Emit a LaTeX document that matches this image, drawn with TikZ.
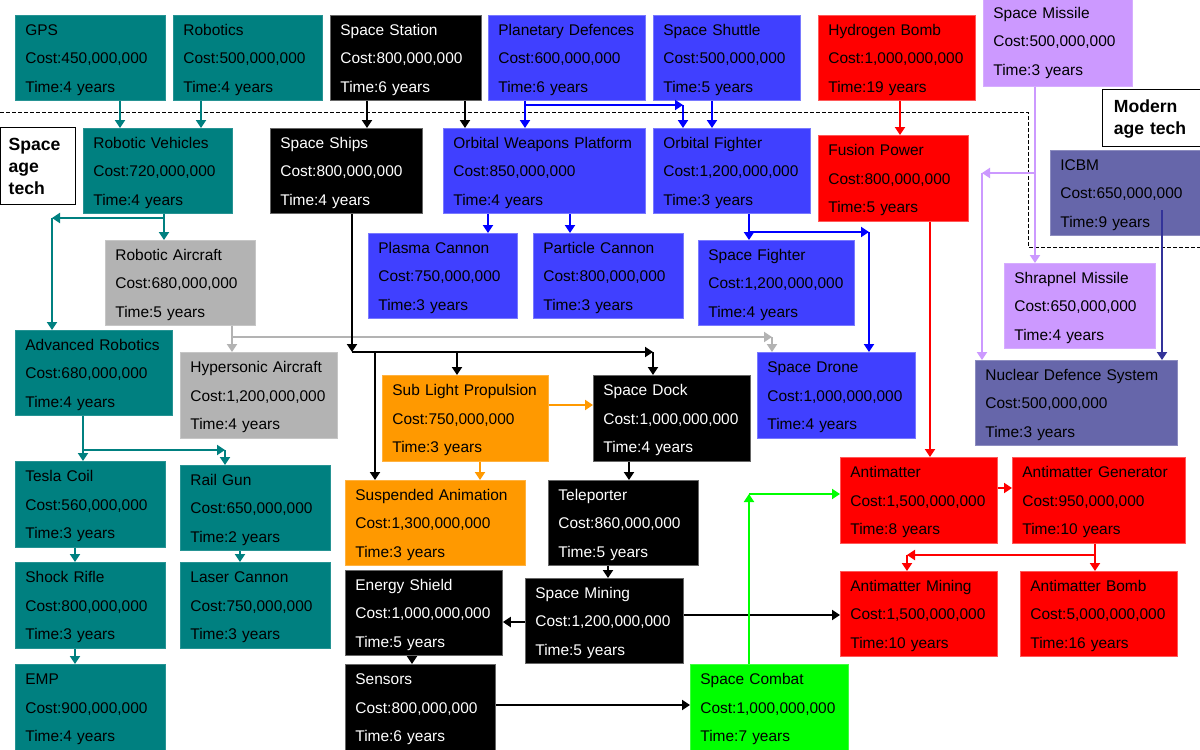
\documentclass[tikz,border=0pt]{standalone}
\usepackage{fontspec}
\setmainfont{Liberation Sans}
\usetikzlibrary{arrows.meta}
\definecolor{tealc}{HTML}{008080}
\definecolor{blueb}{HTML}{4040FF}
\definecolor{bluel}{HTML}{0000FF}
\definecolor{lav}{HTML}{CC99FF}
\definecolor{slate}{HTML}{6666AA}
\definecolor{slateline}{HTML}{333399}
\definecolor{grayb}{HTML}{B3B3B3}
\definecolor{orangeb}{HTML}{FF9900}
\definecolor{greenb}{HTML}{00FF00}
\newcommand\tb[9]{%
  \pgfmathsetmacro\tbtw{(#4-20)*0.75}%
  \pgfmathsetmacro\tbmh{#5*0.75}%
  \node[techbox,#6,text width=\tbtw pt,minimum height=\tbmh pt] (#1) at (#2,#3) {\mbox{#7}\\\mbox{Cost:#8}\\\mbox{Time:#9}};%
}
\begin{document}
\begin{tikzpicture}[x=0.75pt,y=-0.75pt,
  techbox/.style={rectangle,inner xsep=7.5pt,inner ysep=0pt,align=left,anchor=north west,
    font=\fontsize{11.6}{21.4}\selectfont,text height=15pt,text depth=48.75pt,line width=0.6pt},
  tealbox/.style={fill=tealc,draw=tealc!85!white,text=black},
  blackbox/.style={fill=black,draw=black!60!white,text=white},
  bluebox/.style={fill=blueb,draw=blueb!70!white,text=black},
  redbox/.style={fill=red,draw=red!65!white,text=black},
  lavbox/.style={fill=lav,draw=lav!80!white,text=black},
  slatebox/.style={fill=slate,draw=slate!75!white,text=black},
  graybox/.style={fill=grayb,draw=grayb!75!white,text=black},
  orangebox/.style={fill=orangeb,draw=orangeb!75!white,text=black},
  greenbox/.style={fill=greenb,draw=greenb!75!white,text=black},
  agebox/.style={rectangle,draw=black,line width=0.75pt,fill=white,anchor=north west,align=left,
    inner xsep=6pt,inner ysep=0pt,font=\fontsize{13.2}{16.5}\selectfont\bfseries},
  conn/.style={line width=2.1pt,-{Triangle[length=6pt,width=7.5pt]}},
  tc/.style={conn,draw=tealc},
  gc/.style={conn,draw=grayb},
  kc/.style={conn,draw=black},
  oc/.style={conn,draw=orangeb},
  grc/.style={conn,draw=greenb},
  blc/.style={conn,draw=bluel},
  rc/.style={conn,draw=red},
  lc/.style={conn,draw=lav},
  slc/.style={conn,draw=slateline},
  ageline/.style={draw=black,line width=0.75pt,dash pattern=on 3pt off 1.5pt}
]
\useasboundingbox (0,0) rectangle (1200,750);
\clip (0,0) rectangle (1200,750);
\fill[white] (0,0) rectangle (1200,750);

% era boundary
\draw[ageline] (0,112) -- (1028,112) -- (1028,247) -- (1200,247);

% era labels
\node[agebox,minimum width=56.25pt,minimum height=57.75pt,text width=44pt,text height=10pt,text depth=33pt] (spaceage) at (0,127) {Space\\age\\tech};
\node[agebox,minimum width=75pt,minimum height=42.75pt,text width=58pt,inner xsep=8.25pt,text height=10pt,text depth=18pt] (modernage) at (1102,89) {Modern\\age tech};

% boxes
\tb{gps}{15}{15}{150}{85}{tealbox}{GPS}{450,000,000}{4 years}
\tb{rob}{173}{15}{149}{85}{tealbox}{Robotics}{500,000,000}{4 years}
\tb{sst}{330}{15}{151}{85}{blackbox}{Space Station}{800,000,000}{6 years}
\tb{pd}{488}{15}{157}{85}{bluebox}{Planetary Defences}{600,000,000}{6 years}
\tb{ssh}{653}{15}{147}{85}{bluebox}{Space Shuttle}{500,000,000}{5 years}
\tb{hb}{818}{15}{157}{85}{redbox}{Hydrogen Bomb}{1,000,000,000}{19 years}
\tb{sm}{983}{-5}{149}{91}{lavbox}{Space Missile}{500,000,000}{3 years}
\tb{rv}{83}{128}{149}{85}{tealbox}{Robotic Vehicles}{720,000,000}{4 years}
\tb{ships}{270}{128}{152}{85}{blackbox}{Space Ships}{800,000,000}{4 years}
\tb{owp}{443}{128}{202}{85}{bluebox}{Orbital Weapons Platform}{850,000,000}{4 years}
\tb{of}{653}{128}{157}{85}{bluebox}{Orbital Fighter}{1,200,000,000}{3 years}
\tb{fp}{818}{135}{150}{86}{redbox}{Fusion Power}{800,000,000}{5 years}
\tb{icbm}{1050}{150}{152}{85}{slatebox}{ICBM}{650,000,000}{9 years}
\tb{ra}{105}{240}{150}{85}{graybox}{Robotic Aircraft}{680,000,000}{5 years}
\tb{pc}{368}{233}{149}{85}{bluebox}{Plasma Cannon}{750,000,000}{3 years}
\tb{pac}{533}{233}{150}{85}{bluebox}{Particle Cannon}{800,000,000}{3 years}
\tb{sf}{698}{240}{156}{85}{bluebox}{Space Fighter}{1,200,000,000}{4 years}
\tb{shm}{1004}{263}{151}{85}{lavbox}{Shrapnel Missile}{650,000,000}{4 years}
\tb{ar}{15}{330}{157}{85}{tealbox}{Advanced Robotics}{680,000,000}{4 years}
\tb{ha}{180}{352}{157}{86}{graybox}{Hypersonic Aircraft}{1,200,000,000}{4 years}
\tb{sdr}{757}{352}{158}{86}{bluebox}{Space Drone}{1,000,000,000}{4 years}
\tb{nds}{975}{360}{202}{85}{slatebox}{Nuclear Defence System}{500,000,000}{3 years}
\tb{slp}{382}{375}{166}{86}{orangebox}{Sub Light Propulsion}{750,000,000}{3 years}
\tb{sdk}{593}{375}{157}{86}{blackbox}{Space Dock}{1,000,000,000}{4 years}
\tb{tc}{15}{461}{150}{86}{tealbox}{Tesla Coil}{560,000,000}{3 years}
\tb{rg}{180}{465}{150}{85}{tealbox}{Rail Gun}{650,000,000}{2 years}
\tb{sa}{345}{480}{180}{85}{orangebox}{Suspended Animation}{1,300,000,000}{3 years}
\tb{tel}{548}{480}{150}{85}{blackbox}{Teleporter}{860,000,000}{5 years}
\tb{am}{840}{457}{157}{86}{redbox}{Antimatter}{1,500,000,000}{8 years}
\tb{amg}{1012}{457}{173}{86}{redbox}{Antimatter Generator}{950,000,000}{10 years}
\tb{sr}{15}{562}{150}{86}{tealbox}{Shock Rifle}{800,000,000}{3 years}
\tb{lc}{180}{562}{150}{86}{tealbox}{Laser Cannon}{750,000,000}{3 years}
\tb{es}{345}{570}{157}{85}{blackbox}{Energy Shield}{1,000,000,000}{5 years}
\tb{smi}{525}{578}{158}{85}{blackbox}{Space Mining}{1,200,000,000}{5 years}
\tb{amm}{840}{571}{157}{84}{redbox}{Antimatter Mining}{1,500,000,000}{10 years}
\tb{amb}{1020}{571}{157}{84}{redbox}{Antimatter Bomb}{5,000,000,000}{16 years}
\tb{emp}{15}{664}{150}{86}{tealbox}{EMP}{900,000,000}{4 years}
\tb{sen}{345}{664}{150}{86}{blackbox}{Sensors}{800,000,000}{6 years}
\tb{sc}{690}{664}{158}{86}{greenbox}{Space Combat}{1,000,000,000}{7 years}

% corner coordinates
\coordinate (t1) at (52,218);
\coordinate (t2) at (225,450);
\coordinate (g1) at (772,337);
\coordinate (k1) at (352,352);
\coordinate (k2) at (653,352);
\coordinate (gr1) at (749,494);
\coordinate (b1) at (683,105);
\coordinate (b2) at (869,232);
\coordinate (r1) at (907,555);
\coordinate (l1) at (982,173);
\coordinate (s0) at (1162,210);

% teal
\draw[tc] (120,0 |- gps.south) -- (120,0 |- rv.north);
\draw[tc] (201,0 |- rob.south) -- (201,0 |- rv.north);
\draw[tc] (164,0 |- rv.south) |- (t1);
\draw[tc] (t1) -- (52,0 |- ar.north);
\draw[tc] (164,0 |- rv.south) -- (164,0 |- ra.north);
\draw[tc] (83,0 |- ar.south) -- (83,0 |- tc.north);
\draw[tc] (83,0 |- ar.south) |- (t2);
\draw[tc] (t2) -- (225,0 |- rg.north);
\draw[tc] (75,0 |- tc.south) -- (75,0 |- sr.north);
\draw[tc] (75,0 |- sr.south) -- (75,0 |- emp.north);
\draw[tc] (240,0 |- rg.south) -- (240,0 |- lc.north);

% gray
\draw[gc] (232,0 |- ra.south) -- (232,0 |- ha.north);
\draw[gc] (232,0 |- ra.south) |- (g1);
\draw[gc] (g1) -- (772,0 |- sdr.north);

% black
\draw[kc] (367,0 |- sst.south) -- (367,0 |- ships.north);
\draw[kc] (465,0 |- sst.south) -- (465,0 |- owp.north);
\draw[kc] (352,0 |- ships.south) -- (k1);
\draw[kc] (k1) -- (k2);
\draw[kc] (k2) -- (653,0 |- sdk.north);
\draw[kc] (375,0 |- k1) -- (375,0 |- sa.north);
\draw[kc] (457,0 |- k1) -- (457,0 |- slp.north);
\draw[kc] (629,0 |- sdk.south) -- (629,0 |- tel.north);
\draw[kc] (608,0 |- tel.south) -- (608,0 |- smi.north);
\draw[kc] (smi.west |- 0,622) -- (es.east |- 0,622);
\draw[kc] (412,0 |- es.south) -- (412,0 |- sen.north);
\draw[kc] (sen.east |- 0,705) -- (sc.west |- 0,705);
\draw[kc] (smi.east |- 0,615) -- (amm.west |- 0,615);

% orange
\draw[oc] (slp.east |- 0,405) -- (sdk.west |- 0,405);
\draw[oc] (480,0 |- slp.south) -- (480,0 |- sa.north);

% green
\draw[grc] (749,0 |- sc.north) -- (gr1);
\draw[grc] (gr1) -- (am.west |- gr1);

% blue
\draw[blc] (525,0 |- pd.south) -- (525,0 |- owp.north);
\draw[blc] (525,0 |- pd.south) |- (b1);
\draw[blc] (b1) -- (683,0 |- of.north);
\draw[blc] (712,0 |- ssh.south) -- (712,0 |- of.north);
\draw[blc] (488,0 |- owp.south) -- (488,0 |- pc.north);
\draw[blc] (570,0 |- owp.south) -- (570,0 |- pac.north);
\draw[blc] (749,0 |- of.south) -- (749,0 |- sf.north);
\draw[blc] (749,0 |- of.south) |- (b2);
\draw[blc] (b2) -- (869,0 |- sdr.north);

% red
\draw[rc] (900,0 |- hb.south) -- (900,0 |- fp.north);
\draw[rc] (930,0 |- fp.south) -- (930,0 |- am.north);
\draw[rc] (am.east |- 0,488) -- (amg.west |- 0,488);
\draw[rc] (1095,0 |- amg.south) |- (r1);
\draw[rc] (r1) -- (907,0 |- amm.north);
\draw[rc] (1095,0 |- amg.south) -- (1095,0 |- amb.north);

% lavender
\draw[lc] (1035,0 |- sm.south) -- (1035,0 |- shm.north);
\draw[lc] (1035,0 |- sm.south) |- (l1);
\draw[lc] (l1) -- (982,0 |- nds.north);

% slate
\draw[slc] (s0) -- (1162,0 |- nds.north);
\end{tikzpicture}
\end{document}
